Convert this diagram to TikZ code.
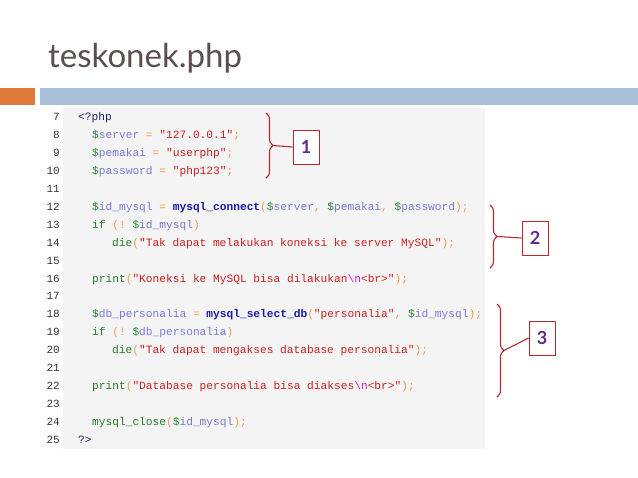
\documentclass[tikz,border=0pt]{standalone}
\usepackage{fontspec}
\setsansfont{Lato}
\setmonofont{Liberation Mono}
\usetikzlibrary{calc,decorations.pathreplacing}

\definecolor{titlegray}{HTML}{5A4E4E}
\definecolor{barorange}{HTML}{DF7A3A}
\definecolor{barblue}{HTML}{A9C0D9}
\definecolor{panelgray}{HTML}{F4F4F4}
\definecolor{bracered}{HTML}{B8282E}
\definecolor{numpurple}{HTML}{5B2C91}
\definecolor{cdollar}{HTML}{2E8B3E}
\definecolor{cvarname}{HTML}{7A7AD6}
\definecolor{cstring}{HTML}{CC1F1F}
\definecolor{ckeyword}{HTML}{2B7A2B}
\definecolor{cfunc}{HTML}{1A1AAA}
\definecolor{cpunct}{HTML}{E8A050}
\definecolor{ctag}{HTML}{1F1F6E}
\definecolor{cesc}{HTML}{D020D0}

\newcommand{\cv}[1]{\textcolor{cdollar}{\$}\textcolor{cvarname}{#1}}
\newcommand{\cs}[1]{\textcolor{cstring}{#1}}
\newcommand{\ck}[1]{\textcolor{ckeyword}{#1}}
\newcommand{\cf}[1]{\textcolor{cfunc}{\bfseries #1}}
\newcommand{\cp}[1]{\textcolor{cpunct}{#1}}
\newcommand{\ce}{\textcolor{cesc}{\textbackslash n}}

\begin{document}
\begin{tikzpicture}[x=1pt, y=-1pt,
    codeline/.style={anchor=base west, inner sep=0, font=\ttfamily\fontsize{11.2}{12}\selectfont},
    lineno/.style={anchor=base east, inner sep=0, font=\ttfamily\fontsize{11}{12}\selectfont, text=black!80},
    brace/.style={draw=bracered, line width=1.1pt, decorate, decoration={brace, amplitude=7pt}},
    numbox/.style={draw=bracered, line width=0.9pt, fill=white, minimum width=26pt, minimum height=34pt,
      inner sep=0, font=\sffamily\bfseries\fontsize{18}{20}\selectfont, text=numpurple},
  ]
  \useasboundingbox (0,0) rectangle (638,478);

  % title and bars
  \node[anchor=base west, inner sep=0, text=titlegray, font=\sffamily\fontsize{33}{36}\selectfont] (title) at (48,68) {teskonek.php};
  \fill[barorange] (0,88) rectangle (35,105);
  \fill[barblue] (40,88) rectangle (638,105);

  % code panel
  \fill[panelgray] (40,108) rectangle (485,449);
  \fill[white] (40,108) rectangle (63,449);

  % line numbers
  \foreach \n [count=\i from 0] in {7,...,25}
    \node[lineno] (ln\n) at (60,121+17.9*\i) {\n};

  % code lines
  \node[codeline] (c7)  at (78,121+17.9*0)  {\textcolor{ctag}{<?php}};
  \node[codeline] (c8)  at (92,121+17.9*1)  {\cv{server} \cp{=} \cs{"127.0.0.1"}\cp{;}};
  \node[codeline] (c9)  at (92,121+17.9*2)  {\cv{pemakai} \cp{=} \cs{"userphp"}\cp{;}};
  \node[codeline] (c10) at (92,121+17.9*3)  {\cv{password} \cp{=} \cs{"php123"}\cp{;}};
  \node[codeline] (c12) at (92,121+17.9*5)  {\cv{id\_mysql} \cp{=} \cf{mysql\_connect}\cp{(}\cv{server}\cp{,} \cv{pemakai}\cp{,} \cv{password}\cp{);}};
  \node[codeline] (c13) at (92,121+17.9*6)  {\ck{if} \cp{(!} \cv{id\_mysql}\cp{)}};
  \node[codeline] (c14) at (112,121+17.9*7) {\ck{die}\cp{(}\cs{"Tak dapat melakukan koneksi ke server MySQL"}\cp{);}};
  \node[codeline] (c16) at (92,121+17.9*9)  {\ck{print}\cp{(}\cs{"Koneksi ke MySQL bisa dilakukan}\ce\cs{<br>"}\cp{);}};
  \node[codeline] (c18) at (92,121+17.9*11) {\cv{db\_personalia} \cp{=} \cf{mysql\_select\_db}\cp{(}\cs{"personalia"}\cp{,} \cv{id\_mysql}\cp{);}};
  \node[codeline] (c19) at (92,121+17.9*12) {\ck{if} \cp{(!} \cv{db\_personalia}\cp{)}};
  \node[codeline] (c20) at (112,121+17.9*13) {\ck{die}\cp{(}\cs{"Tak dapat mengakses database personalia"}\cp{);}};
  \node[codeline] (c22) at (92,121+17.9*15) {\ck{print}\cp{(}\cs{"Database personalia bisa diakses}\ce\cs{<br>"}\cp{);}};
  \node[codeline] (c24) at (92,121+17.9*17) {\ck{mysql\_close}\cp{(}\cv{id\_mysql}\cp{);}};
  \node[codeline] (c25) at (78,121+17.9*18) {\textcolor{ctag}{?>}};

  % braces and numbered boxes
  \coordinate (b1t) at (266,113); \coordinate (b1b) at (266,178);
  \coordinate (b2t) at (490,205); \coordinate (b2b) at (490,268);
  \coordinate (b3t) at (497,304); \coordinate (b3b) at (497,397);
  \draw[brace] (b1t) -- (b1b);
  \draw[brace] (b2t) -- (b2b);
  \draw[brace] (b3t) -- (b3b);
  \node[numbox] (n1) at (306,147) {1};
  \node[numbox] (n2) at (535,238) {2};
  \node[numbox] (n3) at (542,338) {3};
  \coordinate (t1) at ($(b1t)!0.5!(b1b)+(7,0)$);
  \coordinate (t2) at ($(b2t)!0.5!(b2b)+(7,0)$);
  \coordinate (t3) at ($(b3t)!0.5!(b3b)+(7,0)$);
  \draw[bracered, line width=1.1pt] (t1) -- (n1.west);
  \draw[bracered, line width=1.1pt] (t2) -- (n2.west);
  \draw[bracered, line width=1.1pt] (t3) -- (n3.west);
\end{tikzpicture}
\end{document}
